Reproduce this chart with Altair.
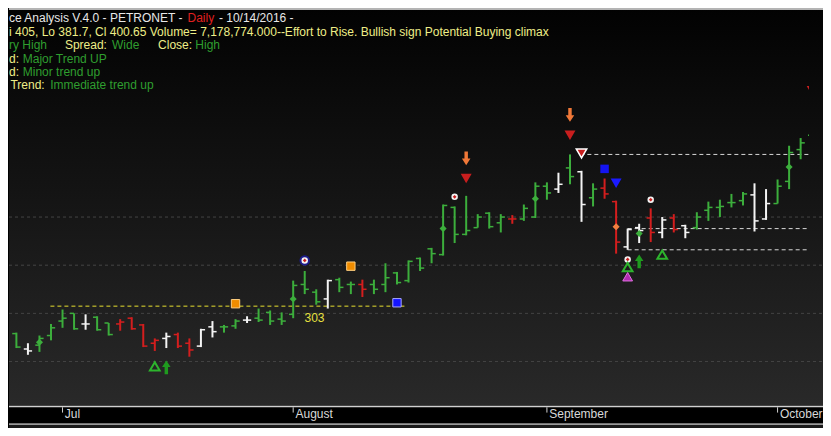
import altair as alt
import pandas as pd

# ---------------- data ----------------
bar_idx = list(range(-4, 66))   # trading-day index, 0 = 1 Jul 2016
bar_high = [292.0, 287.6, 290.8, 295.6, 301.6, 300.0, 299.6, 298.8, 296.0, 297.6,
            298.4, 295.6, 289.6, 292.0, 292.0, 289.6, 293.6, 296.8, 295.2, 297.6,
            298.8, 302.0, 301.2, 300.4, 313.6, 317.6, 310.0, 314.0, 314.8, 313.2,
            314.0, 314.0, 320.8, 317.2, 322.0, 323.2, 327.2, 345.2, 344.4, 348.8,
            341.2, 342.0, 341.2, 340.8, 345.2, 354.4, 354.4, 358.4, 366.0, 359.2,
            354.0, 356.0, 346.8, 335.2, 337.2, 343.6, 340.0, 341.2, 336.8, 342.0,
            346.4, 347.2, 349.6, 350.4, 354.0, 351.6, 355.6, 369.6, 372.8, 376.8]
bar_low = [285.6, 282.8, 284.0, 288.8, 294.0, 293.2, 293.2, 292.8, 290.8, 292.8,
           293.2, 286.0, 284.4, 285.6, 285.6, 282.0, 286.0, 290.0, 292.0, 293.6,
           296.0, 296.4, 295.2, 295.2, 298.0, 308.0, 303.6, 302.0, 308.8, 308.0,
           306.8, 308.0, 308.8, 312.0, 312.8, 317.6, 320.8, 324.0, 329.2, 332.4,
           335.6, 335.2, 333.6, 337.2, 338.4, 339.6, 347.2, 350.0, 353.6, 338.0,
           344.4, 347.6, 324.8, 326.4, 329.2, 329.6, 331.2, 333.6, 331.2, 334.8,
           338.4, 340.0, 344.0, 344.8, 334.0, 338.8, 345.6, 351.6, 364.0, 368.8]
bar_open = [291.6, 285.2, 286.8, 290.8, 296.8, 300.0, 295.6, 298.4, 296.0, 295.6,
            298.0, 295.2, 287.6, 289.6, 291.2, 287.6, 286.4, 294.4, 294.4, 294.8,
            297.2, 298.0, 300.4, 297.6, 299.6, 312.0, 308.8, 306.0, 314.0, 312.0,
            312.0, 312.0, 312.0, 316.8, 313.6, 322.8, 326.8, 324.4, 344.0, 332.8,
            335.6, 341.6, 337.6, 339.2, 339.2, 340.0, 352.8, 351.6, 360.4, 358.8,
            348.0, 352.0, 346.4, 327.6, 335.6, 339.6, 333.6, 339.6, 336.4, 335.6,
            342.8, 344.0, 346.0, 346.8, 349.2, 339.2, 345.6, 354.8, 368.0, 374.0]
bar_close = [286.0, 284.4, 289.6, 294.0, 298.0, 293.6, 295.6, 293.2, 291.2, 296.4,
             293.6, 286.4, 288.8, 290.4, 286.4, 284.8, 293.2, 292.4, 294.4, 296.8,
             297.2, 297.2, 296.8, 296.8, 311.6, 310.0, 304.8, 313.6, 310.8, 312.0,
             310.0, 310.0, 314.8, 312.8, 321.6, 318.8, 324.8, 344.8, 332.8, 334.4,
             340.0, 336.0, 340.0, 339.2, 343.6, 352.8, 350.0, 353.6, 356.8, 345.2,
             351.6, 349.6, 329.6, 334.8, 334.4, 333.6, 338.8, 334.8, 333.6, 340.0,
             344.0, 344.4, 346.0, 349.6, 338.4, 345.6, 352.8, 366.8, 370.8, 375.6]
bar_tone = list("GWGG" "GGWGG" "RRRR" "W" "RR" "WW" "GG" "W" "GGGGGG" "W" "GG" "R"
                "GGGGGGGGGGGG" "R" "GGG" "W" "G" "W" "G" "RR" "WW" "RWRW" "GGGGG" "WW" "GGGG")

month_idx = [0, 20, 42, 62]
month_name = ["Jul", "August", "September", "October"]

green_diamond_idx = [-2, 20, 33, 41, 50, 63]
green_diamond_px = [288.0, 306.0, 335.2, 347.6, 333.2, 360.8]
orange_diamond_idx = [48]
orange_diamond_px = [336.0]
ring_idx = [34, 49, 51, 21]
ring_px = [348.4, 322.4, 347.2, 322.0]
disc_idx = [21]
disc_px = [322.0]
orange_sq_idx = [15, 25]
orange_sq_px = [304.0, 319.6]
blue_sq_b_idx = [29]
blue_sq_b_px = [304.4]
blue_sq_idx = [47]
blue_sq_px = [360.0]
red_tri_idx = [35, 44, 65]
red_tri_px = [356.0, 374.0, 392.4]
red_tri_w_idx = [45]
red_tri_w_px = [366.4]
blue_tri_idx = [48]
blue_tri_px = [354.0]
down_arrow_idx = [35, 44]
down_arrow_px = [364.4, 382.4]
up_arrow_idx = [9, 50]
up_arrow_px = [277.6, 321.6]
green_outline_idx = [8, 49, 52]
green_outline_px = [278.0, 319.2, 324.4]
magenta_idx = [49]
magenta_px = [315.2]

level_px = [303.0, 366.0, 335.2, 326.4]
level_from = [-1.05, 44.9, 49.0, 49.0]
level_to = [29.75, 64.73, 64.73, 64.73]
level_tone = ["Y", "W", "W", "W"]
grid_px = [280, 300, 320, 340]

# ---------------- layout ----------------
W, H = 815, 420
SX, SY = W / 831, H / 436
XDOM = [-4.641, 64.725]
YDOM = [252.4, 426.8]
FONT = "Liberation Sans"
GREEN_T, YEL_T = "#2f9e2f", "#eeee88"


def X(f):
    return alt.X(f + ":Q", scale=alt.Scale(domain=XDOM, nice=False, zero=False), axis=None)


def Y(f):
    return alt.Y(f + ":Q", scale=alt.Scale(domain=YDOM, nice=False, zero=False), axis=None)


one = pd.DataFrame({"a": [0]})
layers = []

# background gradient
layers.append(alt.Chart(one).mark_rect(
    color=alt.Gradient(gradient="linear",
                       stops=[alt.GradientStop(color="#020202", offset=0),
                              alt.GradientStop(color="#292929", offset=1)],
                       x1=0, x2=0, y1=0, y2=1)
).encode(x=alt.value(0), x2=alt.value(W), y=alt.value(0), y2=alt.value(413 * SY)))

# grid
grid = pd.DataFrame({"p": grid_px})
layers.append(alt.Chart(grid).mark_rule(color="#444444", strokeWidth=1, strokeDash=[3, 3]).encode(
    y=Y("p"), x=alt.value(0), x2=alt.value(W)))

# levels
lev = pd.DataFrame({"p": level_px, "a": level_from, "b": level_to, "t": level_tone})
layers.append(alt.Chart(lev).mark_rule(strokeWidth=1, strokeDash=[4, 3]).encode(
    x=X("a"), x2="b:Q", y=Y("p"),
    color=alt.Color("lt:N", scale=alt.Scale(domain=["Y", "W"], range=["#e8e030", "#d8d8d8"]), legend=None)
).transform_calculate(lt="datum.t"))

# bars
bars = pd.DataFrame({"idx": bar_idx, "high": bar_high, "low": bar_low,
                     "open": bar_open, "close": bar_close, "tone": bar_tone})
col = alt.Color("tone:N", scale=alt.Scale(domain=["G", "R", "W"],
                                          range=["#3cae3c", "#d41e1e", "#f4f4f4"]), legend=None)
base = alt.Chart(bars).transform_calculate(xo="datum.idx - 0.36", xc="datum.idx + 0.36")
layers.append(base.mark_rule(strokeWidth=2, clip=True).encode(x=X("idx"), y=Y("high"), y2="low:Q", color=col))
layers.append(base.mark_rule(strokeWidth=1.5, clip=True).encode(x=X("xo"), x2="idx:Q", y=Y("open"), color=col))
layers.append(base.mark_rule(strokeWidth=1.5, clip=True).encode(x=X("idx"), x2="xc:Q", y=Y("close"), color=col))


def pts(ix, px, **mk):
    df = pd.DataFrame({"idx": ix, "p": px})
    mk.setdefault("opacity", 1)
    return alt.Chart(df).mark_point(clip=True, **mk).encode(x=X("idx"), y=Y("p"))


DOWN = "M-0.25,-1L0.25,-1L0.25,0.05L0.62,0.05L0,1L-0.62,0.05L-0.25,0.05Z"
UP = "M-0.25,1L0.25,1L0.25,-0.05L0.62,-0.05L0,-1L-0.62,-0.05L-0.25,-0.05Z"

layers += [
    pts(green_diamond_idx, green_diamond_px, shape="diamond", filled=True, size=50, color="#3cae3c"),
    pts(orange_diamond_idx, orange_diamond_px, shape="diamond", filled=True, size=50, color="#f08040"),
    pts(disc_idx, disc_px, shape="circle", filled=True, size=110, color="#1c1c8c"),
    pts(ring_idx, ring_px, shape="circle", filled=True, size=42, color="#f4f4f4"),
    pts(ring_idx, ring_px, shape="diamond", filled=True, size=14, color="#c81e1e"),
    pts(orange_sq_idx, orange_sq_px, shape="square", filled=True, size=70,
        fill="#f08c00", stroke="#ffcf80", strokeWidth=1),
    pts(blue_sq_b_idx, blue_sq_b_px, shape="square", filled=True, size=70,
        fill="#1414ff", stroke="#a8a8ff", strokeWidth=1),
    pts(blue_sq_idx, blue_sq_px, shape="square", filled=True, size=72, color="#1414f0"),
    pts(red_tri_idx, red_tri_px, shape="triangle-down", filled=True, size=120, color="#c81e1e"),
    pts(red_tri_w_idx, red_tri_w_px, shape="triangle-down", filled=True, size=110,
        fill="#c81e1e", stroke="#ffffff", strokeWidth=1.5),
    pts(blue_tri_idx, blue_tri_px, shape="triangle-down", filled=True, size=120, color="#1a1aff"),
    pts(down_arrow_idx, down_arrow_px, shape=DOWN, filled=True, size=190, color="#f07838"),
    pts(up_arrow_idx, up_arrow_px, shape=UP, filled=True, size=190, color="#1f9a1f"),
    pts(green_outline_idx, green_outline_px, shape="triangle-up", filled=False, size=95,
        color="#2db52d", strokeWidth=2),
    pts(magenta_idx, magenta_px, shape="triangle-up", filled=True, size=95,
        fill="#b02cb0", stroke="#e070e0", strokeWidth=1),
]

# level label
layers.append(alt.Chart(pd.DataFrame({"idx": [20.98], "p": [298.0], "t": ["303"]})).mark_text(
    align="left", baseline="middle", color="#e8e040", font=FONT, fontSize=12).encode(
    x=X("idx"), y=Y("p"), text="t:N"))

# bottom date strip
layers.append(alt.Chart(one).mark_rect(color="#000000").encode(
    x=alt.value(0), x2=alt.value(W), y=alt.value(413 * SY), y2=alt.value(431 * SY)))
layers.append(alt.Chart(one).mark_rule(color="#d0d0d0", strokeWidth=1.5).encode(
    x=alt.value(0), x2=alt.value(W), y=alt.value(413.8 * SY)))
layers.append(alt.Chart(one).mark_rect(color="#9a9a9a").encode(
    x=alt.value(0), x2=alt.value(W), y=alt.value(431 * SY), y2=alt.value(433 * SY)))
layers.append(alt.Chart(one).mark_rect(color="#1a1a1a").encode(
    x=alt.value(0), x2=alt.value(W), y=alt.value(433 * SY), y2=alt.value(H)))

months = pd.DataFrame({"idx": month_idx, "m": month_name})
layers.append(alt.Chart(months).mark_rule(color="#d0d0d0", strokeWidth=1).encode(
    x=X("idx"), y=alt.value(414.5 * SY), y2=alt.value(420 * SY)))
layers.append(alt.Chart(months).transform_calculate(xl="datum.idx + 0.2").mark_text(
    align="left", baseline="alphabetic", color="#d8d8d8", font=FONT, fontSize=12).encode(
    x=X("xl"), y=alt.value(425.5 * SY), text="m:N"))

# header text
header = [
    ("ce Analysis V.4.0 - PETRONET -", "#e8e8e8", 0, 15),
    ("Daily", "#e02020", 182, 15),
    ("- 10/14/2016 -", "#e8e8e8", 214, 15),
    ("i 405, Lo 381.7, Cl 400.65  Volume= 7,178,774.000--Effort to Rise. Bullish sign Potential Buying climax",
     YEL_T, 0, 29),
    ("ry High", GREEN_T, 0, 43),
    ("Spread:", YEL_T, 57, 43),
    ("Wide", GREEN_T, 105, 43),
    ("Close:", YEL_T, 152, 43),
    ("High", GREEN_T, 190, 43),
    ("d:", YEL_T, 0, 57),
    ("Major Trend UP", GREEN_T, 14, 57),
    ("d:", YEL_T, 0, 71),
    ("Minor trend up", GREEN_T, 14, 71),
    ("Trend:", YEL_T, 1.5, 84),
    ("Immediate trend up", GREEN_T, 42, 84),
]
for s, c, hx, hy in header:
    layers.append(alt.Chart(pd.DataFrame({"t": [s]})).mark_text(
        align="left", baseline="alphabetic", color=c, font=FONT, fontSize=12,
        x=hx * SX, y=hy * SY).encode(text="t:N"))

# top border
layers.append(alt.Chart(one).mark_rule(color="#b4b4b4", strokeWidth=2).encode(
    x=alt.value(0), x2=alt.value(W), y=alt.value(1)))

chart = alt.layer(*layers).properties(
    width=W, height=H, padding=0, background="#000000",
    autosize=alt.AutoSizeParams(type="fit", contains="padding"),
).resolve_scale(color="independent").configure_view(strokeWidth=0)

chart.save("out.html", embed_options={"renderer": "svg", "actions": False})
